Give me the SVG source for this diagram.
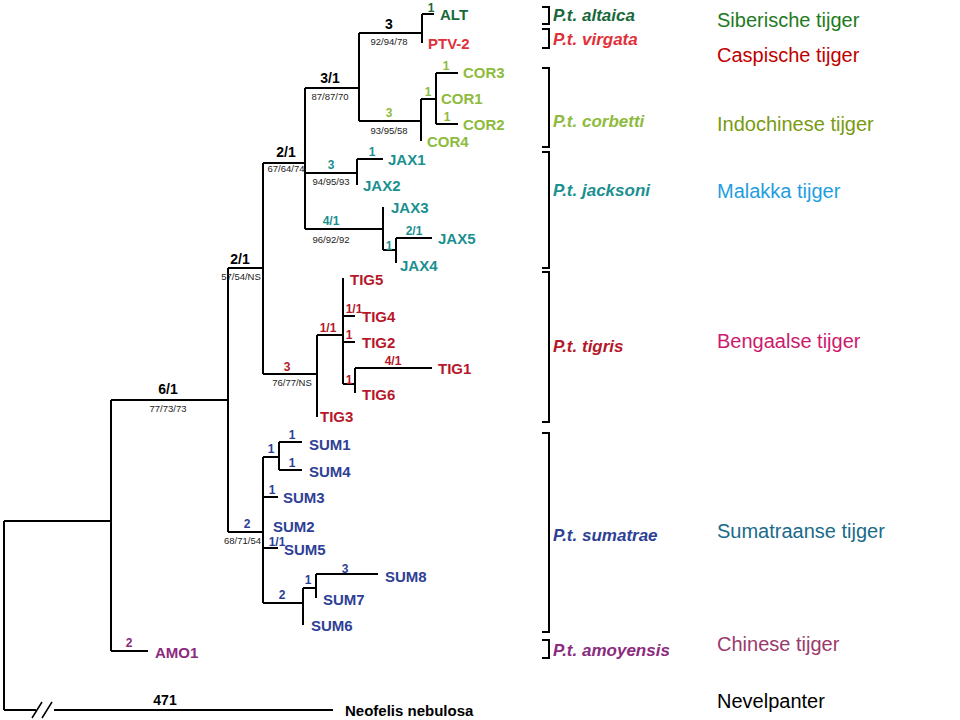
<svg xmlns="http://www.w3.org/2000/svg" width="960" height="720" viewBox="0 0 960 720">
<style>
text{font-family:"Liberation Sans",Arial,sans-serif}
.e{stroke:#000;stroke-width:2;fill:none}
.t{font-weight:bold;font-size:14px}
.tx{font-weight:bold;font-size:15px}
.b{font-weight:bold;font-size:12px}
.s{font-size:9.5px;fill:#222}
.sp{font-weight:bold;font-style:italic;font-size:17px}
.nm{font-size:20px}
.alt{fill:#17683a}.vir{fill:#e0303a}.cor{fill:#8dbb3c}.jax{fill:#1a9090}.tig{fill:#b5182b}.sum{fill:#2e3f96}.amo{fill:#8b2a7e}
</style>
<rect width="960" height="720" fill="#fff"/>
<g id="connectors" class="e">
<path d="M4,521V710M4,521H111M4,710H36M54,710H333M111,400V651M111,651H148M111,400H228"/>
<path d="M32,718L42,702M42,718L52,702" stroke-width="1.5"/>
<path d="M228,268V532M228,268H263M228,532H263"/>
<path d="M263,163V374M263,163H305M263,374H317"/>
<path d="M305,88V229M305,88H359M305,173H357M305,229H383"/>
<path d="M359,33V121M359,33H422M359,121H421M422,14V43M422,14H434"/>
<path d="M421,99V141M421,99H436M436,73V124M436,73H458M436,124H458"/>
<path d="M357,159V185M357,159H383"/>
<path d="M383,207V250M383,250H396M396,238V263M396,238H432"/>
<path d="M317,335V417M317,335H343M343,278V384M343,316H355M343,342H355M343,384H355M355,368V393M355,368H432"/>
<path d="M263,457V603M263,457H279M279,442V470M279,442H302M279,470H302M263,497H278M263,548H278M263,603H303M303,588V625M303,588H316M316,574V598M316,574H378"/>
</g>
<g id="labels">
<text class="t" x="168" y="394" text-anchor="middle">6/1</text><text class="s" x="168" y="412" text-anchor="middle">77/73/73</text>
<text class="t" x="240" y="264" text-anchor="middle">2/1</text><text class="s" x="241" y="280" text-anchor="middle">57/54/NS</text>
<text class="t" x="286" y="157" text-anchor="middle">2/1</text><text class="s" x="286" y="172" text-anchor="middle">67/64/74</text>
<text class="t" x="330" y="83" text-anchor="middle">3/1</text><text class="s" x="330" y="100" text-anchor="middle">87/87/70</text>
<text class="t" x="389" y="29" text-anchor="middle">3</text><text class="s" x="389" y="45" text-anchor="middle">92/94/78</text>
<text class="b cor" x="389" y="117" text-anchor="middle">3</text><text class="s" x="389" y="134" text-anchor="middle">93/95/58</text>
<text class="b jax" x="331" y="169" text-anchor="middle">3</text><text class="s" x="331" y="185" text-anchor="middle">94/95/93</text>
<text class="b jax" x="331" y="225" text-anchor="middle">4/1</text><text class="s" x="331" y="243" text-anchor="middle">96/92/92</text>
<text class="b tig" x="287" y="371" text-anchor="middle">3</text><text class="s" x="292" y="386" text-anchor="middle">76/77/NS</text>
<text class="b sum" x="247" y="528" text-anchor="middle">2</text><text class="s" x="261" y="544" text-anchor="end">68/71/54</text>
<text class="b amo" x="129" y="647" text-anchor="middle">2</text>
<text class="t" x="165" y="705" text-anchor="middle">471</text>
<text class="b alt" x="431" y="12" text-anchor="middle">1</text>
<text class="b cor" x="428" y="96" text-anchor="middle">1</text><text class="b cor" x="446" y="70" text-anchor="middle">1</text><text class="b cor" x="447" y="121" text-anchor="middle">1</text>
<text class="b jax" x="372" y="156" text-anchor="middle">1</text><text class="b jax" x="414" y="235" text-anchor="middle">2/1</text><text class="b jax" x="389" y="250" text-anchor="middle">1</text>
<text class="b tig" x="328" y="332" text-anchor="middle">1/1</text><text class="b tig" x="354" y="313" text-anchor="middle">1/1</text><text class="b tig" x="349" y="339" text-anchor="middle">1</text><text class="b tig" x="393" y="365" text-anchor="middle">4/1</text><text class="b tig" x="349" y="384" text-anchor="middle">1</text>
<text class="b sum" x="292" y="439" text-anchor="middle">1</text><text class="b sum" x="292" y="467" text-anchor="middle">1</text><text class="b sum" x="271" y="453" text-anchor="middle">1</text><text class="b sum" x="272" y="494" text-anchor="middle">1</text><text class="b sum" x="277" y="546" text-anchor="middle">1/1</text><text class="b sum" x="282" y="599" text-anchor="middle">2</text><text class="b sum" x="308" y="584" text-anchor="middle">1</text><text class="b sum" x="345" y="573" text-anchor="middle">3</text>
</g>
<g id="taxa" class="tx">
<text class="alt" x="440" y="20">ALT</text><text class="vir" x="428" y="49">PTV-2</text>
<text class="cor" x="463" y="78">COR3</text><text class="cor" x="441" y="104">COR1</text><text class="cor" x="463" y="130">COR2</text><text class="cor" x="427" y="147">COR4</text>
<text class="jax" x="388" y="165">JAX1</text><text class="jax" x="363" y="191">JAX2</text><text class="jax" x="391" y="213">JAX3</text><text class="jax" x="438" y="244">JAX5</text><text class="jax" x="400" y="271">JAX4</text>
<text class="tig" x="350" y="285">TIG5</text><text class="tig" x="362" y="322">TIG4</text><text class="tig" x="362" y="348">TIG2</text><text class="tig" x="438" y="374">TIG1</text><text class="tig" x="362" y="400">TIG6</text><text class="tig" x="320" y="422">TIG3</text>
<text class="sum" x="309" y="450">SUM1</text><text class="sum" x="309" y="477">SUM4</text><text class="sum" x="283" y="503">SUM3</text><text class="sum" x="273" y="532">SUM2</text><text class="sum" x="284" y="555">SUM5</text><text class="sum" x="385" y="582">SUM8</text><text class="sum" x="323" y="605">SUM7</text><text class="sum" x="311" y="631">SUM6</text>
<text class="amo" x="155" y="658">AMO1</text>
<text x="345" y="716" fill="#000">Neofelis nebulosa</text>
</g>
<g id="brackets" class="e">
<path d="M542,7H549V24H542M542,29H549V48H542M542,68H549V147H542M542,152H549V268H542M542,272H549V422H542M542,433H549V632H542M542,640H549V658H542"/>
</g>
<g id="subspecies" class="sp">
<text class="alt" x="553" y="21">P.t. altaica</text>
<text class="vir" x="553" y="45">P.t. virgata</text>
<text class="cor" x="553" y="127">P.t. corbetti</text>
<text class="jax" x="553" y="196">P.t. jacksoni</text>
<text class="tig" x="553" y="352">P.t. tigris</text>
<text class="sum" x="553" y="541">P.t. sumatrae</text>
<text class="amo" x="553" y="656">P.t. amoyensis</text>
</g>
<g id="common" class="nm">
<text x="717" y="27" fill="#1e7a1e">Siberische tijger</text>
<text x="717" y="62" fill="#c00000">Caspische tijger</text>
<text x="717" y="131" fill="#7a9a10">Indochinese  tijger</text>
<text x="717" y="198" fill="#1e9ee0">Malakka tijger</text>
<text x="717" y="348" fill="#cc1a6e">Bengaalse tijger</text>
<text x="717" y="538" fill="#1a6a8a">Sumatraanse tijger</text>
<text x="717" y="651" fill="#9a3a6a">Chinese tijger</text>
<text x="717" y="708" fill="#000">Nevelpanter</text>
</g>
</svg>
